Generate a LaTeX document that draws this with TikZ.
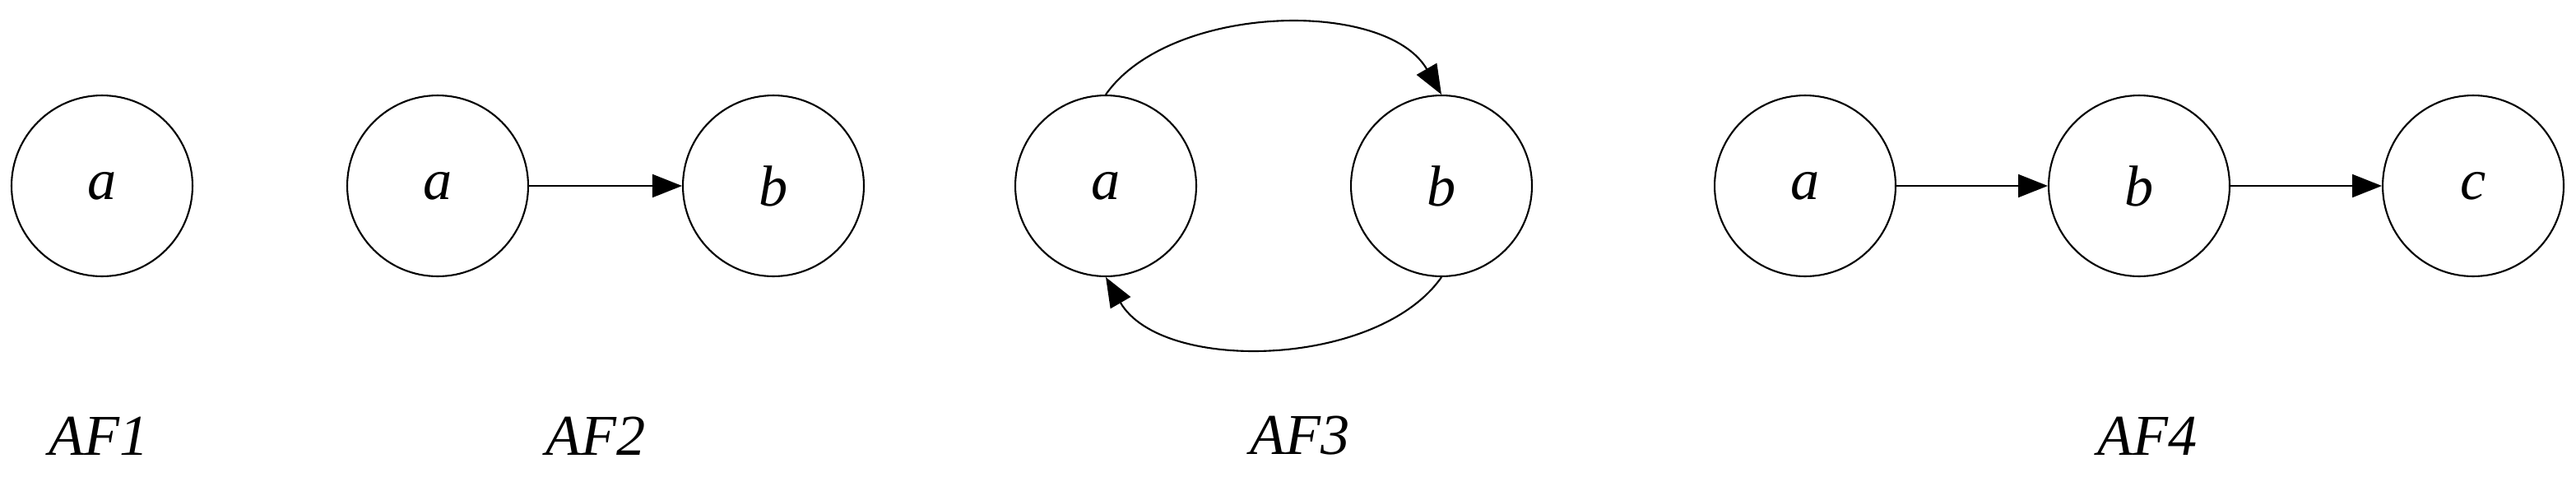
\documentclass[tikz,border=0pt]{standalone}
\usepackage{fontspec}
\setmainfont{Liberation Serif}
\usetikzlibrary{arrows.meta}
\begin{document}
\begin{tikzpicture}[x=0.02cm,y=-0.02cm,
  st/.style={circle,draw,line width=0.6pt,minimum size=2.2cm,inner sep=0pt,font=\fontsize{20}{24}\selectfont\itshape},
  lab/.style={font=\fontsize{20}{24}\selectfont\itshape},
  ar/.style={line width=0.6pt,-{Triangle[length=0.36cm,width=0.28cm]}}]
\useasboundingbox (0,0) rectangle (1565.5,289.5);
\node[st] (a1) at (62,113) {a};
\node[st] (a2) at (266,113) {a};
\node[st] (b2) at (470,113) {b};
\node[st] (a3) at (672,113) {a};
\node[st] (b3) at (876,113) {b};
\node[st] (a4) at (1097,113) {a};
\node[st] (b4) at (1300,113) {b};
\node[st] (c4) at (1503,113) {c};
\draw[ar] (a2) -- (b2);
\draw[ar] (a4) -- (b4);
\draw[ar] (b4) -- (c4);
\draw[ar] (a3.north) to[out=55,in=120,looseness=0.85] (b3.north);
\draw[ar] (b3.south) to[out=-125,in=-60,looseness=0.85] (a3.south);
\node[lab] (l1) at (60,265) {AF1};
\node[lab] (l2) at (362,265) {AF2};
\node[lab] (l3) at (790,265) {AF3};
\node[lab] (l4) at (1305,265) {AF4};
\end{tikzpicture}
\end{document}
